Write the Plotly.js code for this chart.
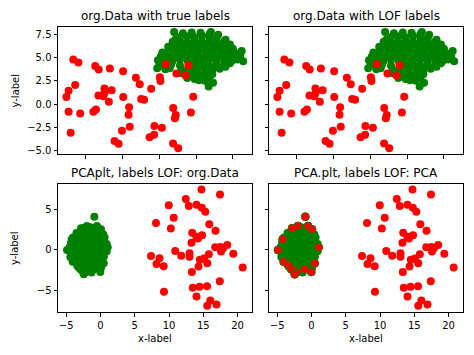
<!DOCTYPE html>
<html><head><meta charset="utf-8">
<script src="https://cdn.plot.ly/plotly-3.0.1.min.js"></script>
<style>html,body{margin:0;padding:0;background:#fff;} #chart{width:474px;height:355px;}</style>
</head><body><div id="chart"></div>
<script>
// ---- original data: inliers (green) ----
const orgInX = [3.5,4.1,4.7,5.3,6.0,6.5,
 3.9,4.4,4.9,5.4,5.9,6.4,7.0,
 3.4,3.9,4.4,4.9,5.4,5.9,6.4,6.9,7.3,
 3.1,3.6,4.1,4.6,5.1,5.6,6.1,6.6,7.1,7.5,
 2.7,3.2,3.7,4.2,4.7,5.2,5.7,6.2,6.7,7.2,7.6,8.1,
 2.6,3.1,3.6,4.1,4.6,5.1,5.6,6.1,6.6,7.1,7.6,8.0,
 2.4,2.9,3.4,3.9,4.4,4.9,5.4,5.9,6.4,6.9,7.4,7.8,8.2,
 2.5,3.3,3.9,4.9,5.4,5.9,6.4,6.9,7.3,
 2.35,2.9,3.2,4.0,4.6,5.1,5.6,6.1,6.6,
 4.0,4.6,5.1,5.6,6.1,
 4.4,4.9,5.4,5.9,
 5.2,5.6,5.85,6.15,
 3.0,7.8,4.4,5.3,5.9,6.9,3.6,4.5,5.0,6.0,7.0,2.8];
const orgInY = [7.75,7.6,7.7,7.65,7.75,7.45,
 7.2,7.25,7.15,7.3,7.2,7.1,6.9,
 6.7,6.75,6.65,6.8,6.7,6.75,6.6,6.7,6.4,
 6.15,6.3,6.2,6.25,6.15,6.3,6.2,6.25,6.1,5.95,
 5.55,5.75,5.7,5.8,5.65,5.75,5.7,5.8,5.65,5.7,5.5,5.7,
 5.1,5.25,5.15,5.3,5.2,5.25,5.15,5.3,5.2,5.25,5.1,5.2,
 4.7,4.75,4.65,4.8,4.7,4.75,4.65,4.8,4.7,4.75,4.6,4.8,4.6,
 4.2,4.25,4.15,4.2,4.3,4.15,4.25,4.2,4.4,
 3.85,3.75,3.85,3.7,3.8,3.75,3.85,3.7,3.8,
 3.3,3.35,3.25,3.3,3.2,
 2.8,2.7,2.75,2.85,
 2.55,2.5,1.9,2.3,
 5.45,5.4,3.5,3.0,7.5,6.2,6.95,4.45,4.0,3.5,4.0,4.45];
// ---- original data: outliers (red) ----
const orgOutX = [-3.36,-3.01,-3.23,-3.68,-3.83,-3.68,-2.89,-3.54,-1.87,-1.63,-0.87,0.03,-1.24,-1.65,-1.32,-0.75,-0.94,-1.82,-1.99,0.04,0.44,0.40,0.48,-0.05,-0.55,-0.28,0.90,1.16,1.26,1.46,1.94,2.53,2.57,2.94,3.66,4.28,4.47,2.67,2.16,1.83,2.14,3.44,3.61,3.55,3.43,3.78,4.64,4.80,-1.23];
const orgOutY = [4.79,4.48,2.04,1.43,0.75,-0.83,-1.02,-3.09,4.10,3.72,3.83,3.54,1.68,0.93,0.84,1.48,0.24,-0.59,-0.83,0.75,-0.35,-1.15,-2.44,-2.86,-3.97,-4.27,2.84,2.14,0.56,0.46,1.66,2.87,2.47,4.27,3.29,3.08,4.18,-2.55,-2.34,-3.56,-3.30,-0.43,-1.18,-1.53,-4.23,-4.74,-0.89,0.78,1.21];
// ---- PCA data: cluster core (green) ----
const pcaInX = [-2.4,-1.5,-0.9,
 -3.5,-2.9,-2.2,-1.5,-0.8,-0.2,0.4,
 -4.0,-3.4,-2.7,-2.0,-1.3,-0.6,0.1,0.6,
 -4.3,-3.6,-2.9,-2.2,-1.5,-0.8,-0.1,0.5,0.9,
 -4.5,-3.8,-3.1,-2.4,-1.7,-1.0,-0.3,0.4,
 -4.3,-3.6,-2.9,-2.2,-1.5,-0.8,-0.1,0.5,0.9,
 -4.4,-3.7,-3.0,-2.3,-1.6,-0.9,-0.2,0.5,
 -3.6,-2.9,-2.2,-1.5,-0.8,-0.1,
 -3.3,-2.6,-1.9,-1.2,-0.5,0.1,
 -2.6,-1.6,-1.3];
const pcaInY = [2.7,2.75,2.6,
 2.05,2.2,2.1,2.15,2.0,2.1,1.9,
 1.5,1.6,1.45,1.55,1.5,1.6,1.45,1.5,
 0.85,0.95,0.85,0.95,0.9,0.85,0.95,0.85,0.7,
 0.3,0.25,0.35,0.3,0.25,0.35,0.3,0.25,
 -0.3,-0.35,-0.25,-0.3,-0.35,-0.25,-0.3,-0.35,-0.2,
 -0.9,-0.85,-0.95,-0.9,-0.85,-0.95,-0.9,-0.85,
 -1.5,-1.45,-1.55,-1.5,-1.45,-1.55,
 -2.1,-2.05,-2.15,-2.1,-2.05,-2.2,
 -2.65,-2.6,-2.8];
// ---- PCA data: cluster edge points (LOF outliers in PCA space) ----
const pcaEdgeX = [-0.90,-1.97,-0.51,0.07,-2.84,-4.20,-4.89,1.05,-4.06,-3.43,-2.95,-2.12,-2.45,-0.99,-0.03,0.47];
const pcaEdgeY = [4.06,2.92,2.92,2.51,2.63,1.28,-0.04,0.30,-1.48,-1.88,-2.41,-2.74,-3.03,-2.41,-2.74,-1.67];
// ---- PCA data: outliers (red) ----
const pcaOutX = [14.73,17.43,12.44,12.88,9.96,14.00,14.78,15.29,10.68,8.10,10.26,15.87,16.78,13.38,13.98,14.81,13.27,14.22,16.73,17.48,17.87,18.48,17.58,19.37,10.90,11.77,12.98,12.98,15.80,15.10,14.49,15.57,14.30,7.37,8.61,8.17,9.22,20.74,13.32,17.40,13.46,14.44,15.54,9.26,14.00,16.02,15.57,16.92];
const pcaOutY = [7.40,6.79,6.24,5.38,5.47,5.52,5.17,4.67,3.92,3.28,2.61,3.12,2.34,2.09,1.59,1.77,0.86,1.38,0.31,0.33,0.17,0.58,-0.22,-0.49,-0.16,-0.75,-0.44,-0.87,-0.55,-1.08,-1.23,-1.66,-2.07,-0.77,-1.06,-1.76,-2.04,-2.19,-2.74,-3.89,-4.69,-4.56,-4.49,-5.17,-5.76,-6.25,-6.89,-6.74];

const titles = ["org.Data with true labels","org.Data with LOF labels","PCAplt, labels LOF: org.Data","PCA.plt, labels LOF: PCA"];
const topXTicks = [-2.5,0,2.5,5,7.5];
const topYTicks = [-5,-2.5,0,2.5,5,7.5];
const botXTicks = [-5,0,5,10,15,20];
const botYTicks = [-5,0,5];

const GREEN = '#008000', RED = '#ff0000', MS = 8;
function sc(x, y, color, xa, ya, line) {
  return {type:'scatter', mode:'markers', x:x, y:y, xaxis:xa, yaxis:ya, showlegend:false, hoverinfo:'skip',
    marker:{color:color, size:MS, line: line || {width:0}}};
}
const allPcaInX = pcaInX.concat(pcaEdgeX), allPcaInY = pcaInY.concat(pcaEdgeY);
const data = [
  sc(orgInX, orgInY, GREEN, 'x', 'y'),
  sc(orgOutX, orgOutY, RED, 'x', 'y'),
  sc(orgInX, orgInY, GREEN, 'x2', 'y2'),
  sc(orgOutX, orgOutY, RED, 'x2', 'y2'),
  sc(allPcaInX, allPcaInY, GREEN, 'x3', 'y3'),
  sc(pcaOutX, pcaOutY, RED, 'x3', 'y3'),
  sc(allPcaInX, allPcaInY, GREEN, 'x4', 'y4'),
  sc(pcaEdgeX, pcaEdgeY, RED, 'x4', 'y4', {color:'#3a6a00', width:1}),
  sc(pcaOutX, pcaOutY, RED, 'x4', 'y4')
];
const W = 474, H = 355;
const font = {family:'DejaVu Sans, sans-serif', size:10, color:'#000'};
function ax(domain, range, tickvals, showLabels, fmt, anchor) {
  return {domain:domain, range:range, anchor:anchor, tickmode:'array', tickvals:tickvals, showticklabels:showLabels,
    tickformat:fmt, showline:true, mirror:true, linecolor:'#000', linewidth:1, ticks:'outside', ticklen:3.5,
    tickwidth:1, tickcolor:'#000', showgrid:false, zeroline:false, tickfont:font, fixedrange:true};
}
const xL = [58/W, 252/W], xR = [269/W, 463/W];
const yT = [1-154/H, 1-27/H], yB = [1-312/H, 1-184/H];
const topXR = [-4.4, 8.8], topYR = [-5.36, 8.28];
const botXR = [-6.2, 22.1], botYR = [-7.66, 8.08];
const layout = {
  width:W, height:H, margin:{l:0,r:0,t:0,b:0}, paper_bgcolor:'#fff', plot_bgcolor:'#fff', showlegend:false,
  xaxis: ax(xL, topXR, topXTicks, false, '', 'y'),
  yaxis: ax(yT, topYR, topYTicks, true, '.1f', 'x'),
  xaxis2: ax(xR, topXR, topXTicks, false, '', 'y2'),
  yaxis2: ax(yT, topYR, topYTicks, false, '.1f', 'x2'),
  xaxis3: ax(xL, botXR, botXTicks, true, 'd', 'y3'),
  yaxis3: ax(yB, botYR, botYTicks, true, 'd', 'x3'),
  xaxis4: ax(xR, botXR, botXTicks, true, 'd', 'y4'),
  yaxis4: ax(yB, botYR, botYTicks, false, 'd', 'x4'),
  annotations: [
    {text:titles[0], x:155/W, y:1-15.7/H},
    {text:titles[1], x:366/W, y:1-15.7/H},
    {text:titles[2], x:155/W, y:1-173/H},
    {text:titles[3], x:366/W, y:1-173/H}
  ].map(a => Object.assign(a, {xref:'paper', yref:'paper', xanchor:'center', yanchor:'middle', showarrow:false,
      font:{family:'DejaVu Sans, sans-serif', size:12, color:'#000'}})).concat([
    {text:'y-label', x:15/W, y:1-90.5/H, textangle:-90},
    {text:'y-label', x:15/W, y:1-248/H, textangle:-90},
    {text:'x-label', x:155/W, y:1-338.3/H},
    {text:'x-label', x:366/W, y:1-338.3/H}
  ].map(a => Object.assign(a, {xref:'paper', yref:'paper', xanchor:'center', yanchor:'middle', showarrow:false, font:font})))
};
Plotly.newPlot('chart', data, layout, {staticPlot:true, displayModeBar:false});
</script></body></html>
